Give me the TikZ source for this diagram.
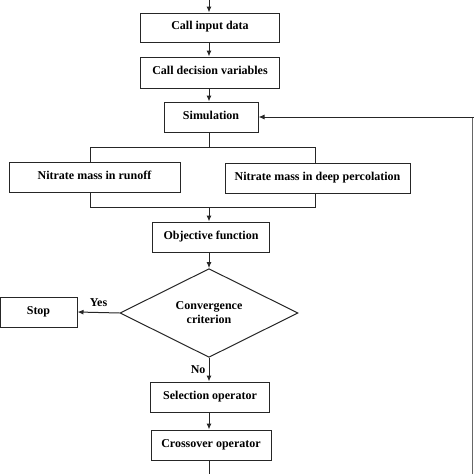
\documentclass[tikz,border=0pt]{standalone}
\usepackage{fontspec}
\setmainfont{Liberation Serif}
\usetikzlibrary{shapes.geometric,arrows.meta}
\begin{document}
\begin{tikzpicture}[x=1pt,y=-1pt,
  box/.style={draw=black!85,line width=1pt,fill=white,inner sep=0pt,font=\bfseries\fontsize{12}{14}\selectfont,text height=8pt,text depth=4pt},
  conn/.style={draw=black!85,line width=1pt},
  arr/.style={conn,-{Latex[length=6pt,width=5pt]}},
  lbl/.style={font=\bfseries\fontsize{12}{14}\selectfont,inner sep=0pt}]
\useasboundingbox (0,0) rectangle (474,474);
% frame around the two nitrate boxes
\coordinate (ftop) at (210,147);
\coordinate (fbot) at (210,207);
\draw[conn] (90,147) rectangle (315,207);
\node[box,minimum width=139pt,minimum height=29pt] (in) at (210,27.5) {Call input data};
\node[box,minimum width=139pt,minimum height=31pt] (dv) at (210,72.5) {Call decision variables};
\node[box,minimum width=94pt,minimum height=30pt] (sim) at (211,117) {Simulation};
\node[box,minimum width=171pt,minimum height=30pt] (run) at (94.5,177) {Nitrate mass in runoff};
\node[box,minimum width=185pt,minimum height=30pt] (deep) at (317.5,178) {Nitrate mass in deep percolation};
\node[box,minimum width=117pt,minimum height=30pt] (obj) at (211,237) {Objective function};
\node[draw=black!85,line width=1pt,fill=white,inner sep=0pt,diamond,minimum width=178pt,minimum height=86pt,align=center,font=\bfseries\fontsize{12}{14}\selectfont] (conv) at (209,313) {Convergence\\criterion};
\node[box,minimum width=77pt,minimum height=30pt] (stop) at (38.5,312) {Stop};
\node[box,minimum width=119pt,minimum height=30pt] (sel) at (210,397) {Selection operator};
\node[box,minimum width=120pt,minimum height=30pt] (cro) at (211,445) {Crossover operator};
\coordinate (topin) at (209,0);
\coordinate (botout) at (209,474);
\coordinate (rb) at (472.5,474);
\coordinate (rt) at (472.5,117);
% connectors
\draw[arr] (topin) -- (topin |- in.north);
\draw[arr] (in.south -| topin) -- (dv.north -| topin);
\draw[arr] (dv.south -| topin) -- (sim.north -| topin);
\draw[conn] (sim.south -| topin) -- (ftop -| topin);
\draw[arr] (fbot -| topin) -- (obj.north -| topin);
\draw[arr] (obj.south -| topin) -- (conv.north);
\draw[arr] (conv.west) -- (stop.east) node[lbl,midway,above=5pt] {Yes};
\draw[arr] (conv.south) -- (sel.north -| topin) node[lbl,midway,left=3pt] {No};
\draw[arr] (sel.south -| topin) -- (cro.north -| topin);
\draw[conn] (cro.south -| topin) -- (botout);
\draw[conn,draw=black!60] (rb) -- (rt);
\draw[arr] (474,117) -- (sim.east);
\end{tikzpicture}
\end{document}
